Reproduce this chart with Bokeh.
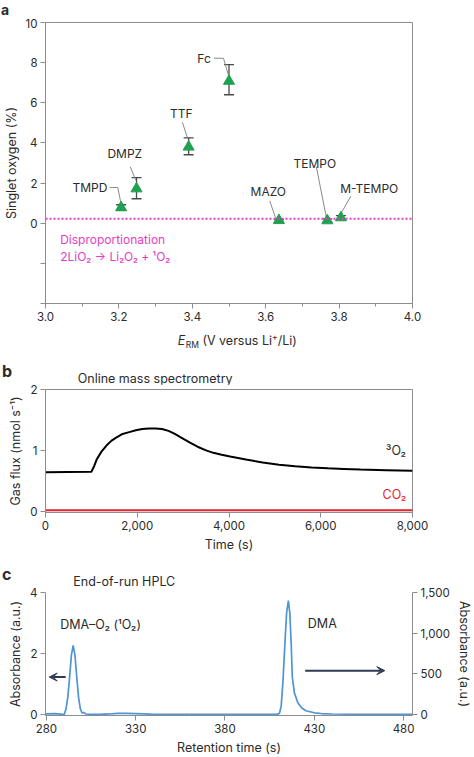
from bokeh.plotting import figure
from bokeh.layouts import column
from bokeh.models import (Range1d, LinearAxis, FixedTicker, NumeralTickFormatter,
                          PrintfTickFormatter, Label, Whisker, TeeHead, Arrow, VeeHead,
                          ColumnDataSource, Span, Div)
from bokeh.embed import file_html
from bokeh.resources import INLINE

FONT = "Inter"
AXIS = "#8c8c8c"
INK = "#2b2b2b"
GREEN = "#1ea24f"
MAGENTA = "#e63cc3"
RED = "#e8232f"
BLUE = "#4f94d4"
NAVY = "#2e3b52"

# ---------------- panel a: singlet oxygen yield vs mediator potential ----------------
mediators = ["TMPD", "DMPZ", "TTF", "Fc", "MAZO", "TEMPO", "M-TEMPO"]
e_rm = [3.206, 3.248, 3.390, 3.500, 3.636, 3.768, 3.805]
singlet_pct = [0.78, 1.72, 3.80, 7.08, 0.14, 0.13, 0.28]
singlet_lo = [0.64, 1.22, 3.41, 6.40, 0.09, 0.05, 0.19]
singlet_hi = [0.92, 2.27, 4.25, 7.90, 0.19, 0.22, 0.38]
disprop_level = 0.22

# name placement and leader routing (data units)
label_pos = {"TMPD": (3.121, 1.78), "DMPZ": (3.216, 3.49), "TTF": (3.370, 5.48),
             "Fc": (3.432, 8.22), "MAZO": (3.607, 1.59), "TEMPO": (3.734, 2.98),
             "M-TEMPO": (3.882, 1.71)}
leader_via = {"TMPD": [(3.175, 1.78), (3.197, 1.78)], "DMPZ": [(3.231, 2.81)],
              "TTF": [(3.373, 5.03)], "Fc": [(3.459, 8.22), (3.485, 8.22)],
              "MAZO": [(3.611, 1.11)], "TEMPO": [(3.738, 2.81)], "M-TEMPO": [(3.832, 1.35)]}
leader_end = {"TMPD": (0.0, 0.17), "DMPZ": (-0.002, 0.42), "TTF": (-0.004, 0.49),
              "Fc": (0.0, 0.2), "MAZO": (-0.009, 0.12), "TEMPO": (-0.003, 0.18),
              "M-TEMPO": (0.0, 0.2)}

x_ticks_a = [3.0, 3.2, 3.4, 3.6, 3.8, 4.0]
x_minor_a = [3.1, 3.3, 3.5, 3.7, 3.9]
y_ticks_a = [-4, -2, 0, 2, 4, 6, 8, 10]

# ---------------- panel b: online mass spectrometry ----------------
time_s = [0, 500, 1000, 1060, 1115, 1220, 1328, 1440, 1541, 1680, 1825, 1970, 2109,
          2255, 2393, 2540, 2681, 2820, 2958, 3140, 3314, 3500, 3660, 3840, 4024,
          4370, 4734, 5090, 5444, 5800, 6154, 6500, 6864, 7430, 8000]
o2_flux = [0.64, 0.645, 0.65, 0.74, 0.85, 0.98, 1.08, 1.16, 1.21, 1.27, 1.30, 1.33, 1.35,
           1.36, 1.36, 1.35, 1.32, 1.27, 1.21, 1.13, 1.06, 1.00, 0.96, 0.93, 0.90,
           0.85, 0.80, 0.765, 0.74, 0.72, 0.705, 0.695, 0.685, 0.675, 0.665]
co2_time = [0, 2000, 4000, 6000, 8000]
co2_flux = [0.015, 0.016, 0.015, 0.015, 0.015]
x_ticks_b = [0, 2000, 4000, 6000, 8000]
y_ticks_b = [0, 1, 2]

# ---------------- panel c: end-of-run HPLC ----------------
# early part of the trace (DMA-O2 peak), left axis
rt_early = [279.5, 285, 289, 290, 291, 292, 293, 294, 295, 296, 297, 298, 299, 300,
            301, 302, 305, 310, 315, 320, 325, 330, 335, 340, 350, 360]
abs_early = [0.02, 0.03, 0.01, 0.0, 0.19, 0.57, 1.23, 1.95, 2.27, 1.95, 1.23, 0.57, 0.19,
             0.05, 0.07, 0.02, 0.01, 0.01, 0.02, 0.04, 0.04, 0.03, 0.02, 0.01, 0.01, 0.01]
# late part of the trace (DMA peak), right axis
rt_late = [360, 380, 400, 409, 410.5, 411.5, 412.5, 413.5, 414.5, 415.5, 416.3, 417.1,
           417.7, 418.9, 420.8, 423, 425.3, 430, 434, 440, 450, 460, 470, 485]
abs_late = [4, 3, 3, 3, 15, 110, 420, 850, 1250, 1399, 1250, 855, 461, 264, 145, 80, 47,
            22, 13, 7, 4, 3, 2, 2]
x_ticks_c = [280, 330, 380, 430, 480]
y_ticks_c = [0, 2, 4]
y_ticks_c_right = [0, 500, 1000, 1500]


def style_axis(ax):
    ax.axis_line_color = AXIS
    ax.major_tick_line_color = AXIS
    ax.minor_tick_line_color = AXIS
    ax.major_tick_out = 5
    ax.major_tick_in = 0
    ax.minor_tick_out = 3
    ax.minor_tick_in = 0
    ax.major_label_text_font = FONT
    ax.major_label_text_font_size = "11.5px"
    ax.major_label_text_color = INK
    ax.major_label_standoff = 3
    ax.axis_label_text_font = FONT
    ax.axis_label_text_font_size = "12.5px"
    ax.axis_label_text_font_style = "normal"
    ax.axis_label_text_color = INK
    ax.axis_label_standoff = 4


def base_fig(height, xr, yr, left, right, top, bottom, outline=True):
    p = figure(width=474, height=height, x_range=xr, y_range=yr,
               output_backend="svg", toolbar_location=None,
               min_border_left=left, min_border_right=right,
               min_border_top=top, min_border_bottom=bottom)
    p.xgrid.visible = False
    p.ygrid.visible = False
    p.outline_line_color = AXIS if outline else None
    p.background_fill_color = "white"
    p.border_fill_color = "white"
    for ax in p.axis:
        style_axis(ax)
    return p


def text(p, x, y, s, size="12px", color=INK, align="left", baseline="middle"):
    p.add_layout(Label(x=x, y=y, text=s, text_font=FONT, text_font_size=size,
                       text_color=color, text_align=align, text_baseline=baseline))


def strip(height, items):
    """A full-width row of absolutely placed HTML texts (left, top, size, weight, html)."""
    spans = "".join(
        f'<span style="position:absolute;left:{x}px;top:{y}px;font-size:{s}px;'
        f'line-height:{round(s * 1.22, 1)}px;font-weight:{w};color:{INK};'
        f'white-space:nowrap">{t}</span>'
        for x, y, s, w, t in items)
    html = (f'<div style="position:relative;width:474px;height:{height}px;'
            f'font-family:Inter,sans-serif;">{spans}</div>')
    return Div(text=html, width=474, height=height, margin=0)


# ---------------- build panel a ----------------
head_a = strip(18, [(1, 0.5, 14, 700, "a")])

pa = base_fig(307, Range1d(3.0, 4.0), Range1d(-4, 10), 44, 54, 4, 22)
pa.xaxis.ticker = FixedTicker(ticks=x_ticks_a, minor_ticks=x_minor_a)
pa.xaxis.formatter = PrintfTickFormatter(format="%.1f")
pa.yaxis.ticker = FixedTicker(ticks=y_ticks_a, minor_ticks=[])
pa.yaxis.major_label_overrides = {-4: "", -2: ""}
pa.yaxis.axis_label = "Singlet oxygen (%)"

pa.add_layout(Span(location=disprop_level, dimension="width", line_color=MAGENTA,
                   line_width=2, line_dash="2 2"))

src_a = ColumnDataSource(dict(x=e_rm, y=singlet_pct, lo=singlet_lo, hi=singlet_hi))
pa.add_layout(Whisker(source=src_a, base="x", lower="lo", upper="hi",
                      line_color="#4a4a4a", line_width=1.3, level="underlay",
                      lower_head=TeeHead(size=10, line_color="#4a4a4a", line_width=1.3),
                      upper_head=TeeHead(size=10, line_color="#4a4a4a", line_width=1.3)))

xs, ys = [], []
for name, px, py in zip(mediators, e_rm, singlet_pct):
    dx, dy = leader_end[name]
    path = leader_via[name] + [(px + dx, py + dy)]
    xs.append([q[0] for q in path])
    ys.append([q[1] for q in path])
pa.multi_line(xs, ys, line_color="#8a8a8a", line_width=1)

pa.scatter(e_rm, singlet_pct, marker="triangle", size=11,
           fill_color=GREEN, line_color=GREEN)

for name in mediators:
    lx, ly = label_pos[name]
    text(pa, lx, ly, name, align="center")

text(pa, 3.040, -0.83, "Disproportionation", color=MAGENTA)
text(pa, 3.040, -1.64, "2LiO₂ → Li₂O₂ + ¹O₂", color=MAGENTA)

# x-axis title with italic E and subscript RM
xtitle_a = strip(25, [(177.7, 7.5, 12.5, 400,
                       '<i>E</i><span style="font-size:8.5px;position:relative;top:3px;'
                       'margin-left:0.5px">RM</span> (V versus Li<span style="font-size:8.5px;'
                       'position:relative;top:-5px">+</span>/Li)')])

# ---------------- build panel b ----------------
head_b = strip(34, [(2, 11.7, 16, 700, "b"),
                    (77.7, 20.5, 12.5, 400, "Online mass spectrometry")])

pb = base_fig(171, Range1d(0, 8000), Range1d(-0.02, 2), 44, 54, 5, 43)
pb.xaxis.ticker = FixedTicker(ticks=x_ticks_b, minor_ticks=[])
pb.xaxis.formatter = NumeralTickFormatter(format="0,0")
pb.yaxis.ticker = FixedTicker(ticks=y_ticks_b, minor_ticks=[])
pb.xaxis.axis_label = "Time (s)"
pb.yaxis.axis_label = "Gas flux (nmol s⁻¹)"

pb.line(co2_time, co2_flux, line_color=RED, line_width=2)
pb.line(time_s, o2_flux, line_color="black", line_width=2)
text(pb, 7638, 1.0, "³O₂", size="12.5px", align="center")
text(pb, 7606, 0.27, "CO₂", size="12.5px", color=RED, align="center")

# ---------------- build panel c ----------------
head_c = strip(32, [(2, 9.7, 16, 700, "c"),
                    (73.3, 19.2, 12.5, 400, "End-of-run HPLC")])

pc = base_fig(170, Range1d(279.5, 485), Range1d(-0.03, 4), 42, 55, 5, 38, outline=False)
pc.extra_y_ranges = {"dma": Range1d(-0.03 * 375, 1500)}
right_ax = LinearAxis(y_range_name="dma", ticker=FixedTicker(ticks=y_ticks_c_right, minor_ticks=[]),
                      formatter=NumeralTickFormatter(format="0,0"), axis_label="Absorbance (a.u.)")
style_axis(right_ax)
pc.add_layout(right_ax, "right")
pc.xaxis.ticker = FixedTicker(ticks=x_ticks_c, minor_ticks=[])
pc.yaxis[0].ticker = FixedTicker(ticks=y_ticks_c, minor_ticks=[])
pc.xaxis.axis_label = "Retention time (s)"
pc.yaxis[0].axis_label = "Absorbance (a.u.)"

pc.line(rt_early, abs_early, line_color=BLUE, line_width=1.7)
pc.line(rt_late, abs_late, line_color=BLUE, line_width=1.7, y_range_name="dma")

pc.add_layout(Arrow(x_start=290.8, y_start=1.23, x_end=281.6, y_end=1.23,
                    line_color=NAVY, line_width=2,
                    end=VeeHead(size=8, fill_color=NAVY, line_color=NAVY)))
pc.add_layout(Arrow(x_start=424.9, y_start=1.44, x_end=469.5, y_end=1.44,
                    line_color=NAVY, line_width=2,
                    end=VeeHead(size=8, fill_color=NAVY, line_color=NAVY)))

text(pc, 287.7, 2.95, "DMA–O₂ (¹O₂)", size="12.5px")
text(pc, 426.4, 2.99, "DMA", size="12.5px")

layout = column(head_a, pa, xtitle_a, head_b, pb, head_c, pc, spacing=0)
open("out.html", "w").write(file_html(layout, INLINE))
